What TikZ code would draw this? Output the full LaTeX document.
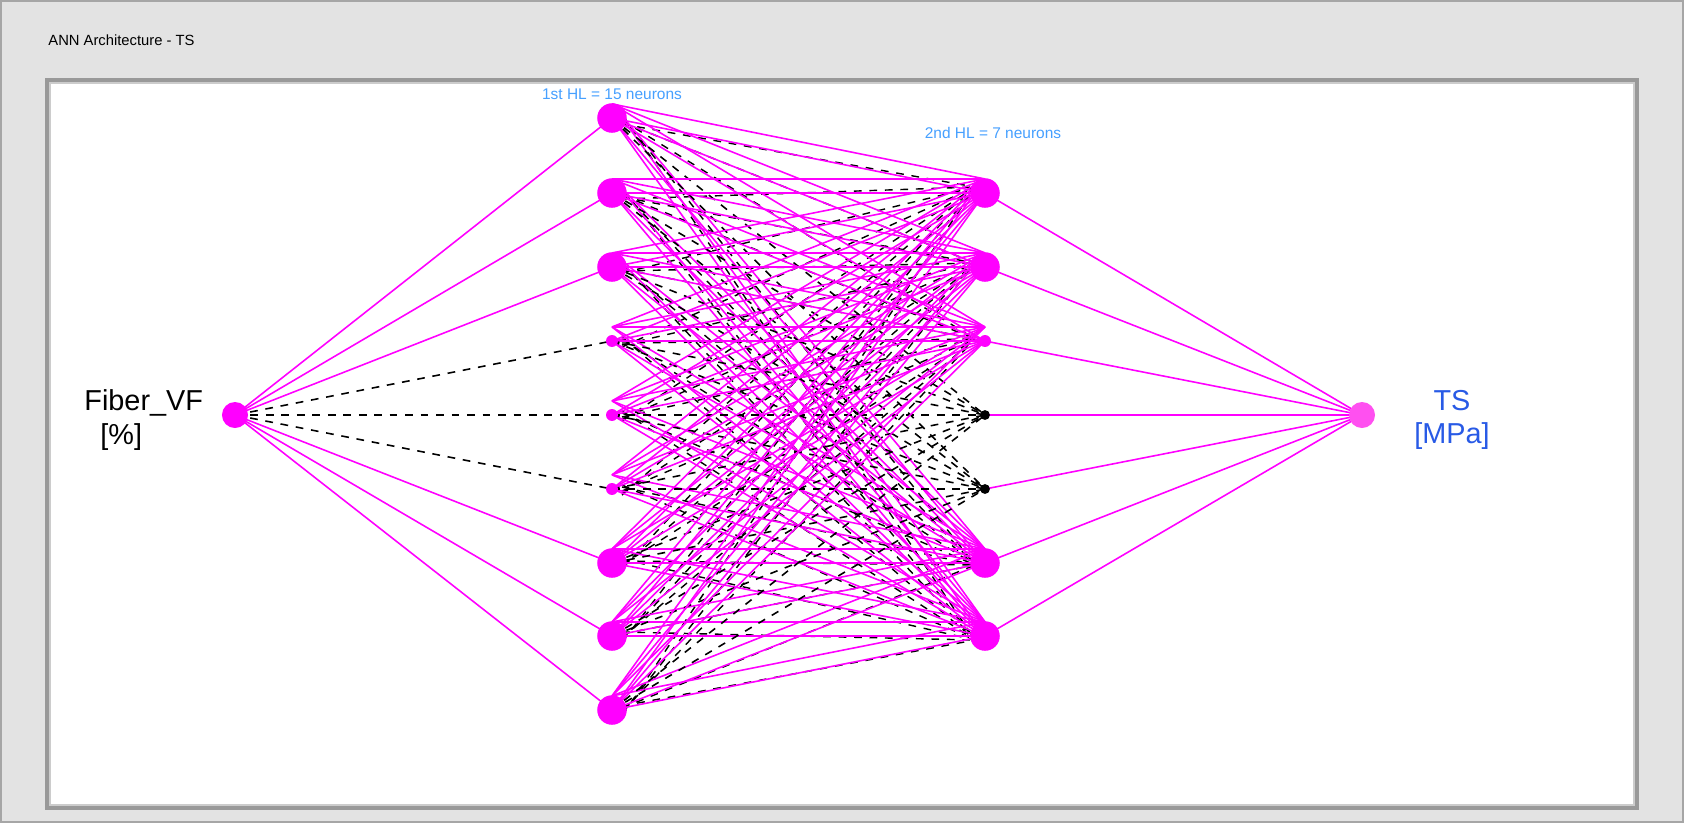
\documentclass[tikz,border=0pt]{standalone}
\usepackage{fontspec}
\setmainfont{Liberation Sans}
\definecolor{mag}{RGB}{255,0,255}
\definecolor{magl}{RGB}{255,80,240}
\definecolor{hlc}{RGB}{70,160,255}
\definecolor{tsc}{RGB}{40,90,230}
\begin{document}
\begin{tikzpicture}[x=0.01cm,y=-0.01cm,
  big/.style={circle,fill=mag,inner sep=0pt,minimum size=8.4pt},
  small/.style={circle,fill=mag,inner sep=0pt,minimum size=3.4pt},
  tiny/.style={circle,fill=black,inner sep=0pt,minimum size=2.8pt},
  pk/.style={mag,line width=0.45pt},
  dsh/.style={black,line width=0.45pt,dash pattern=on 2.2pt off 2.2pt}]
\useasboundingbox (0,0) rectangle (1684,823);
\fill[gray!22] (0,0) rectangle (1684,823);
\draw[gray!70] (1,1) rectangle (1683,822);
\node[anchor=west,font=\fontsize{4.2}{6}\selectfont] (title) at (36,40) {ANN Architecture - TS};
\fill[white] (47,80) rectangle (1637,808);
\draw[gray!80,line width=1pt] (47,80) rectangle (1637,808);
\draw[gray!40,line width=0.6pt] (50,83) rectangle (1634,805);
% node positions
\foreach \i/\y in {1/118,2/193,3/267,4/341,5/415,6/489,7/563,8/636,9/710}
  \coordinate (a\i) at (612,\y);
\foreach \i/\y in {1/193,2/267,3/341,4/415,5/489,6/563,7/636}
  \coordinate (b\i) at (985,\y);
\coordinate (in) at (235,415);
\coordinate (out) at (1362,415);
% edges
\foreach \i in {1,2,3,7,8,9} \draw[pk] (in) -- (a\i);
\foreach \i in {4,5,6} \draw[dsh] (in) -- (a\i);
\foreach \i in {1,...,9}{
  \foreach \j/\o in {1/6,2/4,3/2,6/-2,7/-4} \draw[dsh,line width=0.4pt] ([shift={(10,\o)}]a\i) -- ([shift={(-10,-\o)}]b\j);
}
\foreach \i in {1,...,9}{
  \foreach \j in {1,2,3,6,7} {\draw[pk] (a\i) -- (b\j); \draw[pk] ([yshift=4]a\i) -- ([yshift=4]b\j);}
  \foreach \j in {4,5} \draw[dsh] (a\i) -- (b\j);
}
\foreach \j in {1,...,7} \draw[pk] (b\j) -- (out);
% nodes
\node[big,minimum size=7.4pt] (nin) at (in) {};
\foreach \i/\s in {1/big,2/big,3/big,4/small,5/small,6/small,7/big,8/big,9/big}
  \node[\s] (na\i) at (a\i) {};
\foreach \i/\s in {1/big,2/big,3/small,6/big,7/big}
  \node[\s] (nb\i) at (b\i) {};
\foreach \i in {4,5} \node[tiny] (nb\i) at (b\i) {};
\node[circle,fill=magl,inner sep=0pt,minimum size=7.4pt] (nout) at (out) {};
% labels
\node[font=\fontsize{8.2}{9.5}\selectfont,align=left,anchor=west] (inl) at (72,420) {Fiber\_VF\\\ \ [\%]};
\node[font=\fontsize{8.2}{9.5}\selectfont,align=center,text=tsc] (outl) at (1452,420) {TS\\{[MPa]}};
\node[font=\fontsize{4.4}{6}\selectfont,text=hlc] (l1) at (612,94) {1st HL = 15 neurons};
\node[font=\fontsize{4.4}{6}\selectfont,text=hlc] (l2) at (993,133) {2nd HL = 7 neurons};
\end{tikzpicture}
\end{document}
